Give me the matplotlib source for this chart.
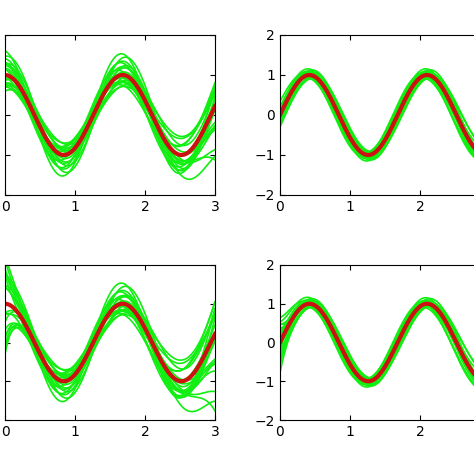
import numpy as np
import matplotlib.pyplot as plt

P = 1.68
x = np.linspace(0, 3, 400)
# hand-chosen ensemble parameters: amplitude, shift, start-edge, end-edge
amp = [1.05, 0.9, 1.15, 0.95, 1.2, 0.85, 1.0, 1.1, 0.92, 1.25, 0.88, 1.02, 1.18, 0.97, 1.08, 0.83, 1.12, 0.94, 1.3, 0.9]
shift = [0.02, -0.04, 0.05, -0.02, 0.0, 0.06, -0.06, 0.03, -0.01, 0.04, -0.05, 0.01, -0.03, 0.07, -0.07, 0.02, 0.0, 0.05, -0.02, 0.03]
e0 = [0.3, -0.2, 0.1, -0.4, 0.2, 0.0, -0.1, 0.4, -0.3, 0.15, -0.25, 0.35, 0.05, -0.15, 0.25, -0.35, 0.1, -0.05, 0.3, -0.45]
e3 = [-0.5, 0.3, -1.2, 0.6, -0.2, 0.8, -0.9, 0.1, -0.6, 0.4, -1.6, 0.2, -0.3, 0.7, -0.8, 0.5, -0.1, -1.0, 0.3, -0.4]
edge_scale = [(0.3, 0.9, 0.35), (0.3, 0.2, 0.1), (2.5, 1.3, 0.35), (1.5, 0.3, 0.1)]
kinds = ['cos', 'sin', 'cos', 'sin']

fig = plt.figure(figsize=(4.74, 4.74), dpi=100)
W, H = 474, 474
boxes = [(5, 35, 210, 160), (280, 35, 210, 160), (5, 265, 210, 155), (280, 265, 210, 155)]
for (l, t, w, h), kind, (s0, s3, sa) in zip(boxes, kinds, edge_scale):
    ax = fig.add_axes([l / W, 1 - (t + h) / H, w / W, h / H])
    f = np.cos if kind == 'cos' else np.sin
    for a, s, c0, c3 in zip(amp, shift, e0, e3):
        aa = 1 + (a - 1) * sa / 0.2
        y = aa * f(2 * np.pi * (x - s) / P) + s0 * c0 * np.exp(-x / 0.12) + s3 * c3 * np.exp((x - 3) / 0.35)
        ax.plot(x, y, color='#11ee11', lw=1.2)
    ax.plot(x, f(2 * np.pi * x / P), color='#cc1111', lw=3)
    ax.set_xlim(0, 3)
    ax.set_ylim(-2, 2)
    ax.set_xticks([0, 1, 2, 3])
    ax.set_yticks([-2, -1, 0, 1, 2])
    ax.tick_params(direction='in', labelsize=10, top=True, right=True)
fig.savefig('out.png', dpi=100)
